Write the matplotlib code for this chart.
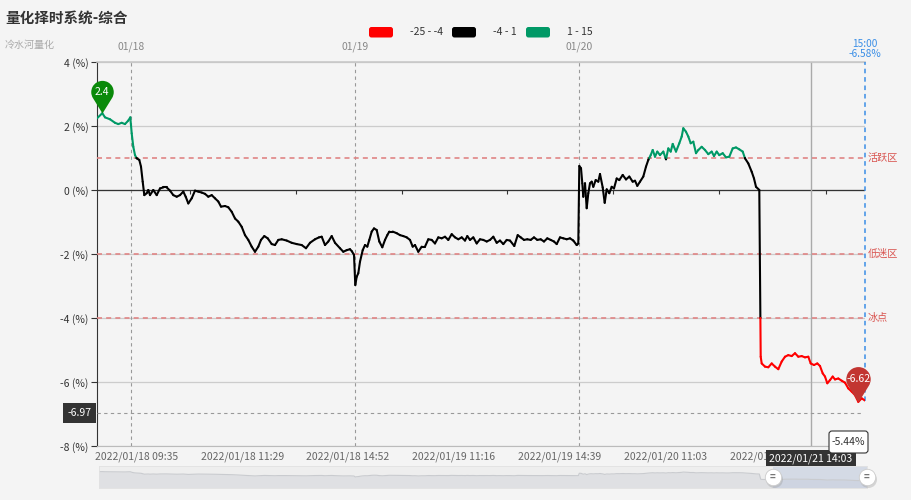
import numpy as np
import matplotlib
matplotlib.use('Agg')
import matplotlib.pyplot as plt
from matplotlib.collections import LineCollection
from matplotlib.path import Path
from matplotlib.patches import FancyBboxPatch
import matplotlib.transforms as mtransforms

plt.rcParams['font.family'] = ['Noto Sans CJK SC', 'DejaVu Sans']
plt.rcParams['axes.unicode_minus'] = False

# ---------------- data ----------------
title = '量化择时系统-综合'
subtitle = '冷水河量化'

t = [0, 5.3, 8, 13, 18, 21.3, 24.7, 28, 31.3, 33.3, 34.7, 36.3, 38, 39.7, 42.3, 44, 45.7, 47.3,
     49.7, 51.3, 53, 56.3, 59.7, 63, 66.3, 69.7, 73, 76.3, 79.7, 83, 86.3, 88.7, 91.3, 94.7, 98,
     101.3, 104.7, 108, 111.3, 114.7, 118, 121.3, 124, 128, 131.3, 134.7, 138, 141.3, 144.7, 148,
     151.3, 154.7, 158, 161.3, 164, 167.3, 170.7, 174.7, 178, 181.3, 184.7, 189.7, 194.7, 199.7,
     204.7, 209, 213, 218, 222, 224.7, 228, 231.3, 234.7, 238, 243, 246.3, 249.7, 253, 255, 257,
     258.3, 259.7, 261.3, 263, 265.7, 268, 270.3, 272.3, 274.7, 277, 279.7, 282.3, 285.3, 288,
     290.3, 292.3, 295.7, 299.7, 303, 306.3, 309.7, 313, 315.7, 318, 321.3, 324.7, 328, 331.3,
     334.7, 338, 341.3, 344.7, 348, 351.3, 354.7, 358, 361.3, 364.7, 368, 370.3, 373, 376.3,
     379.7, 383, 386.3, 389.7, 393, 396.3, 399.7, 403, 406.3, 409.7, 413, 417.3, 420.7, 423.7,
     427, 430.3, 433.7, 437, 440.3, 443.7, 447, 450.3, 453.7, 457, 459.7, 463, 466.3, 469.7,
     473, 476.3, 479.7, 481.3, 482.3, 484, 485.3, 486.3, 488, 489.7, 491.3, 493, 494.7, 496.3,
     498.7, 501.3, 503, 505.7, 507.7, 509.7, 512.3, 514.7, 517, 519.7, 522.3, 525.7, 529, 532.3,
     535.7, 538, 540.3, 543, 546.3, 549, 551.3, 553.7, 555.7, 558, 560.3, 563, 566.3, 569, 571.3,
     573.7, 575.7, 579, 582.3, 584.7, 586.3, 589, 591.3, 593.7, 596.3, 599, 601.3, 604.7, 608,
     611.3, 614.7, 617, 619.7, 622.3, 625.7, 629, 632.3, 635.7, 639, 642.3, 645.7, 648, 651.3,
     654.7, 657, 659, 662.3, 663.7, 664.7, 668, 671.3, 674.7, 678, 681.3, 684.7, 688, 691.3,
     694.7, 698, 701.3, 704.7, 708, 711.3, 713.7, 717, 720.3, 723, 725.7, 728, 730.3, 733,
     735.7, 738, 741.3, 744.7, 748, 751.3, 754.7, 758, 761.3, 764.7, 768]

values = [2.24, 2.40, 2.27, 2.21, 2.10, 2.06, 2.10, 2.06, 2.17, 2.27, 1.77, 1.35, 1.09, 0.99, 0.94,
          0.73, 0.26, -0.16, -0.10, 0.00, -0.16, 0.00, -0.16, 0.05, 0.08, 0.08, -0.02, -0.16,
          -0.21, -0.16, -0.05, -0.21, -0.42, -0.26, -0.02, -0.05, -0.08, -0.12, -0.21, -0.16,
          -0.26, -0.36, -0.52, -0.50, -0.54, -0.68, -0.89, -0.99, -1.15, -1.41, -1.56, -1.77,
          -1.93, -1.77, -1.56, -1.44, -1.51, -1.69, -1.72, -1.56, -1.54, -1.58, -1.65, -1.69,
          -1.72, -1.82, -1.65, -1.54, -1.48, -1.46, -1.72, -1.61, -1.44, -1.65, -1.82, -1.93,
          -1.88, -1.85, -1.92, -2.03, -2.97, -2.71, -2.60, -2.24, -1.88, -1.72, -1.77, -1.56,
          -1.30, -1.20, -1.25, -1.61, -1.79, -1.56, -1.41, -1.30, -1.30, -1.35, -1.41, -1.44,
          -1.48, -1.56, -1.77, -1.72, -1.93, -1.77, -1.77, -1.54, -1.56, -1.67, -1.48, -1.51,
          -1.46, -1.56, -1.38, -1.48, -1.54, -1.48, -1.58, -1.44, -1.56, -1.48, -1.67, -1.54,
          -1.56, -1.61, -1.56, -1.46, -1.65, -1.58, -1.69, -1.56, -1.58, -1.75, -1.41, -1.48,
          -1.56, -1.54, -1.56, -1.48, -1.56, -1.54, -1.61, -1.51, -1.56, -1.61, -1.69, -1.48,
          -1.51, -1.54, -1.51, -1.58, -1.72, -1.67, 0.75, 0.68, 0.21, -0.21, 0.21, -0.57, -0.10,
          0.21, 0.26, 0.10, 0.31, 0.26, 0.50, 0.08, -0.40, 0.02, -0.10, 0.10, 0.05, 0.36, 0.31,
          0.47, 0.33, 0.42, 0.26, 0.29, 0.13, 0.26, 0.42, 0.73, 0.94, 1.09, 1.25, 1.04, 1.20,
          1.09, 1.20, 0.96, 1.30, 1.20, 1.44, 1.20, 1.46, 1.67, 1.93, 1.82, 1.67, 1.46, 1.51,
          1.15, 1.25, 1.35, 1.25, 1.12, 1.20, 1.06, 1.20, 1.09, 1.15, 1.02, 1.04, 1.30, 1.33,
          1.27, 1.20, 0.99, 0.83, 0.57, 0.36, 0.10, 0.00, -5.21, -5.42, -5.52, -5.54, -5.42,
          -5.52, -5.60, -5.36, -5.21, -5.16, -5.19, -5.10, -5.21, -5.19, -5.23, -5.21, -5.42,
          -5.47, -5.42, -5.50, -5.73, -5.83, -6.04, -5.94, -5.83, -5.92, -5.89, -5.96, -6.02,
          -6.20, -6.30, -6.41, -6.62, -6.51, -6.58]

x_label_pos = [40, 146, 251, 357, 463, 569, 675]
x_labels = ['2022/01/18 09:35', '2022/01/18 11:29', '2022/01/18 14:52', '2022/01/19 11:16',
            '2022/01/19 14:39', '2022/01/20 11:03', '2022/01/21 13:10']
axis_tick_pos = [93, 199, 305, 410, 516, 622, 729]
day_pos = [34, 258, 482]
day_labels = ['01/18', '01/19', '01/20']
y_ticks = [4, 2, 0, -2, -4, -6, -8]
levels = [1, -2, -4]
level_labels = ['活跃区', '低迷区', '冰点']
low_line = -6.97
piece_bounds = [(-25, -4), (-4, 1), (1, 15)]
piece_colors = ['#ff0000', '#000000', '#009966']
piece_labels = ['-25 - -4', '-4 - 1', '1 - 15']
cursor_t = 714
cursor_label = '2022/01/21 14:03'
cursor_value = -5.44
end_time = '15:00'
zoom_start = 676

# ---------------- figure ----------------
BG = '#f4f4f4'
W, H = 911, 500
fig = plt.figure(figsize=(W / 100, H / 100), dpi=100, facecolor=BG)
ax = fig.add_axes([97 / W, 1 - 446 / H, 768 / W, 384 / H], facecolor=BG)
ax.set_xlim(0, 768)
ax.set_ylim(-8, 4)

t_arr = np.array(t, float)
v_arr = np.array(values, float)


def piece_color(v):
    for (lo, hi), c in zip(piece_bounds, piece_colors):
        if lo <= v < hi:
            return c
    return piece_colors[-1]


segs, cols = [], []
cuts = sorted({b for pair in piece_bounds for b in pair})
for i in range(len(t_arr) - 1):
    t0, v0, t1, v1 = t_arr[i], v_arr[i], t_arr[i + 1], v_arr[i + 1]
    fr = [0.0]
    for c in cuts:
        if (v0 - c) * (v1 - c) < 0:
            fr.append((c - v0) / (v1 - v0))
    fr.append(1.0)
    fr.sort()
    for a, b in zip(fr[:-1], fr[1:]):
        pa = (t0 + a * (t1 - t0), v0 + a * (v1 - v0))
        pb = (t0 + b * (t1 - t0), v0 + b * (v1 - v0))
        segs.append([pa, pb])
        cols.append(piece_color(v0 + (a + b) / 2 * (v1 - v0)))

lc = LineCollection(segs, colors=cols, linewidths=1.5, capstyle='round', joinstyle='round', zorder=5)
ax.add_collection(lc)

# grid & axes
ax.set_yticks(y_ticks)
ax.set_yticklabels([f'{v} (%)' for v in y_ticks])
ax.grid(axis='y', color='#cccccc', lw=0.9, zorder=0)
ax.set_axisbelow(True)
ax.spines['right'].set_visible(False)
ax.spines['top'].set_color('#c8c8c8')
ax.spines['top'].set_linewidth(1.2)
ax.spines['bottom'].set_color('#bbbbbb')
ax.spines['left'].set_color('#333333')
ax.tick_params(axis='y', length=4, width=0.8, color='#333333', labelsize=7.5, labelcolor='#333333', pad=2)
ax.set_xticks(x_label_pos)
ax.set_xticklabels(x_labels)
ax.tick_params(axis='x', length=0, labelsize=7.5, labelcolor='#666666', pad=4)

ax.axhline(0, color='#333333', lw=0.9, zorder=2)
ax.vlines(axis_tick_pos, -0.12, 0, color='#333333', lw=0.8, zorder=2)

for p, lab in zip(day_pos, day_labels):
    ax.axvline(p, color='#999999', lw=0.8, ls=(0, (3, 3)), zorder=1)
    ax.annotate(lab, xy=(p, 4), xytext=(0, 11), textcoords='offset points', ha='center', va='center',
                fontsize=7.5, color='#888888', annotation_clip=False)

for lv, lab in zip(levels, level_labels):
    ax.plot([0, 766], [lv, lv], color='#e08585', lw=1.2, ls=(0, (3, 2.5)), zorder=3)
    ax.annotate(lab, xy=(768, lv), xytext=(2, 0), textcoords='offset points', ha='left', va='center',
                fontsize=7.3, color='#d9534f', annotation_clip=False)

ax.plot([0, 766], [low_line, low_line], color='#999999', lw=0.8, ls=(0, (3, 3)), zorder=3)
ax.annotate(f'{low_line:.2f}', xy=(0, low_line), xytext=(-4, 0), textcoords='offset points',
            ha='right', va='center', fontsize=7.5, color='white', annotation_clip=False,
            bbox=dict(boxstyle='square,pad=0.45', fc='#333333', ec='none'))

# cursor line + labels
ax.axvline(cursor_t, color='#aaaaaa', lw=1.0, zorder=2)
ax.annotate(cursor_label, xy=(cursor_t, -8), xytext=(0, -9), textcoords='offset points',
            ha='center', va='center', fontsize=7.5, color='white', annotation_clip=False, zorder=10,
            bbox=dict(boxstyle='square,pad=0.3', fc='#333333', ec='none'))

# end marker line
end_t, end_v = t_arr[-1], v_arr[-1]
ax.plot([end_t, end_t], [end_v, 4], color='#3a8ee6', lw=1.1, ls=(0, (3, 2.5)), zorder=4, clip_on=False)
ax.annotate(f'{end_time}\n{end_v:.2f}%', xy=(end_t, 4), xytext=(0, 2), textcoords='offset points',
            ha='center', va='bottom', fontsize=7.3, color='#3a8ee6', linespacing=1.0,
            annotation_clip=False)

# pins
def pin_path(h=1.9, r=1.0):
    a = np.degrees(np.arccos(r / h))
    arc = Path.arc(-90 + a, 270 - a)
    verts = arc.vertices * r + np.array([0, h])
    v = np.vstack([[0, 0], verts, [0, 0], [0, 0]])
    codes = [Path.MOVETO, Path.LINETO] + list(arc.codes[1:]) + [Path.LINETO, Path.CLOSEPOLY]
    return Path(v, codes)


pin = pin_path()
pin_ext = np.abs(pin.vertices).max()
imax, imin = int(np.argmax(v_arr)), int(np.argmin(v_arr))
for idx, col, ms in [(imax, '#0a8a0a', 47), (imin, '#c23531', 51)]:
    ax.plot([t_arr[idx]], [v_arr[idx]], marker=pin, markersize=ms, color=col, mec='none',
            zorder=8, clip_on=False)
    ax.annotate(f'{v_arr[idx]:g}', xy=(t_arr[idx], v_arr[idx]), xytext=(0, ms * 0.5 * 1.9 / pin_ext),
                textcoords='offset points', ha='center', va='center', fontsize=7.5, color='white',
                zorder=9, annotation_clip=False)

# ---------------- data zoom slider ----------------
sl = fig.add_axes([99 / W, 1 - 488 / H, 768 / W, 22 / H], facecolor='#eeeeee')
sl.set_xlim(2, 770)
sl.set_ylim(-14, 8)
sl.fill_between(t_arr, v_arr, -14, color='#dfe0e3', lw=0)
sl.plot(t_arr, v_arr, color='#c9cbcf', lw=0.8)
sl.axvspan(zoom_start, 770, color='#c3cde0', alpha=0.6, lw=0)
for s in sl.spines.values():
    s.set_color('#e2e2e2')
    s.set_linewidth(0.6)
sl.set_xticks([])
sl.set_yticks([])
btr = mtransforms.blended_transform_factory(sl.transData, sl.transAxes)
shadow_tr = mtransforms.offset_copy(btr, fig=fig, x=1.0, y=-1.5, units='points')
for hx in [zoom_start, 770]:
    sl.scatter([hx], [0.5], s=150, color='#999999', alpha=0.35, transform=shadow_tr, clip_on=False,
               zorder=5, lw=0)
    sl.scatter([hx], [0.5], s=140, color='white', edgecolors='#cccccc', linewidths=0.6,
               transform=btr, clip_on=False, zorder=6)
    sl.text(hx, 0.5, '=', transform=btr, ha='center', va='center', fontsize=7, color='#777777',
            zorder=7, fontweight='bold')

# ---------------- overlay: title, legend, tooltip ----------------
ov = fig.add_axes([0, 0, 1, 1], facecolor='none')
ov.set_xlim(0, W)
ov.set_ylim(H, 0)
ov.axis('off')
ov.text(5, 18, title, fontsize=10.5, fontweight='bold', color='#333333', ha='left', va='center')
ov.text(5, 45, subtitle, fontsize=7.2, color='#aaaaaa', ha='left', va='center')

leg_x = [369, 452, 526]
for lx, col, lab in zip(leg_x, piece_colors, piece_labels):
    ov.add_patch(FancyBboxPatch((lx, 27), 24, 10.5, boxstyle='round,pad=0,rounding_size=2.5',
                                fc=col, ec='none'))
    ov.text(lx + 41, 32, lab, fontsize=7.5, color='#333333', ha='left', va='center')

ov.add_patch(FancyBboxPatch((829, 431), 39, 22, boxstyle='round,pad=0,rounding_size=3',
                            fc='white', ec='#333333', lw=0.8))
ov.text(848.5, 442, f'{cursor_value:.2f}%', fontsize=7.5, color='#333333', ha='center', va='center')

fig.savefig('out.png', dpi=100, facecolor=BG)
